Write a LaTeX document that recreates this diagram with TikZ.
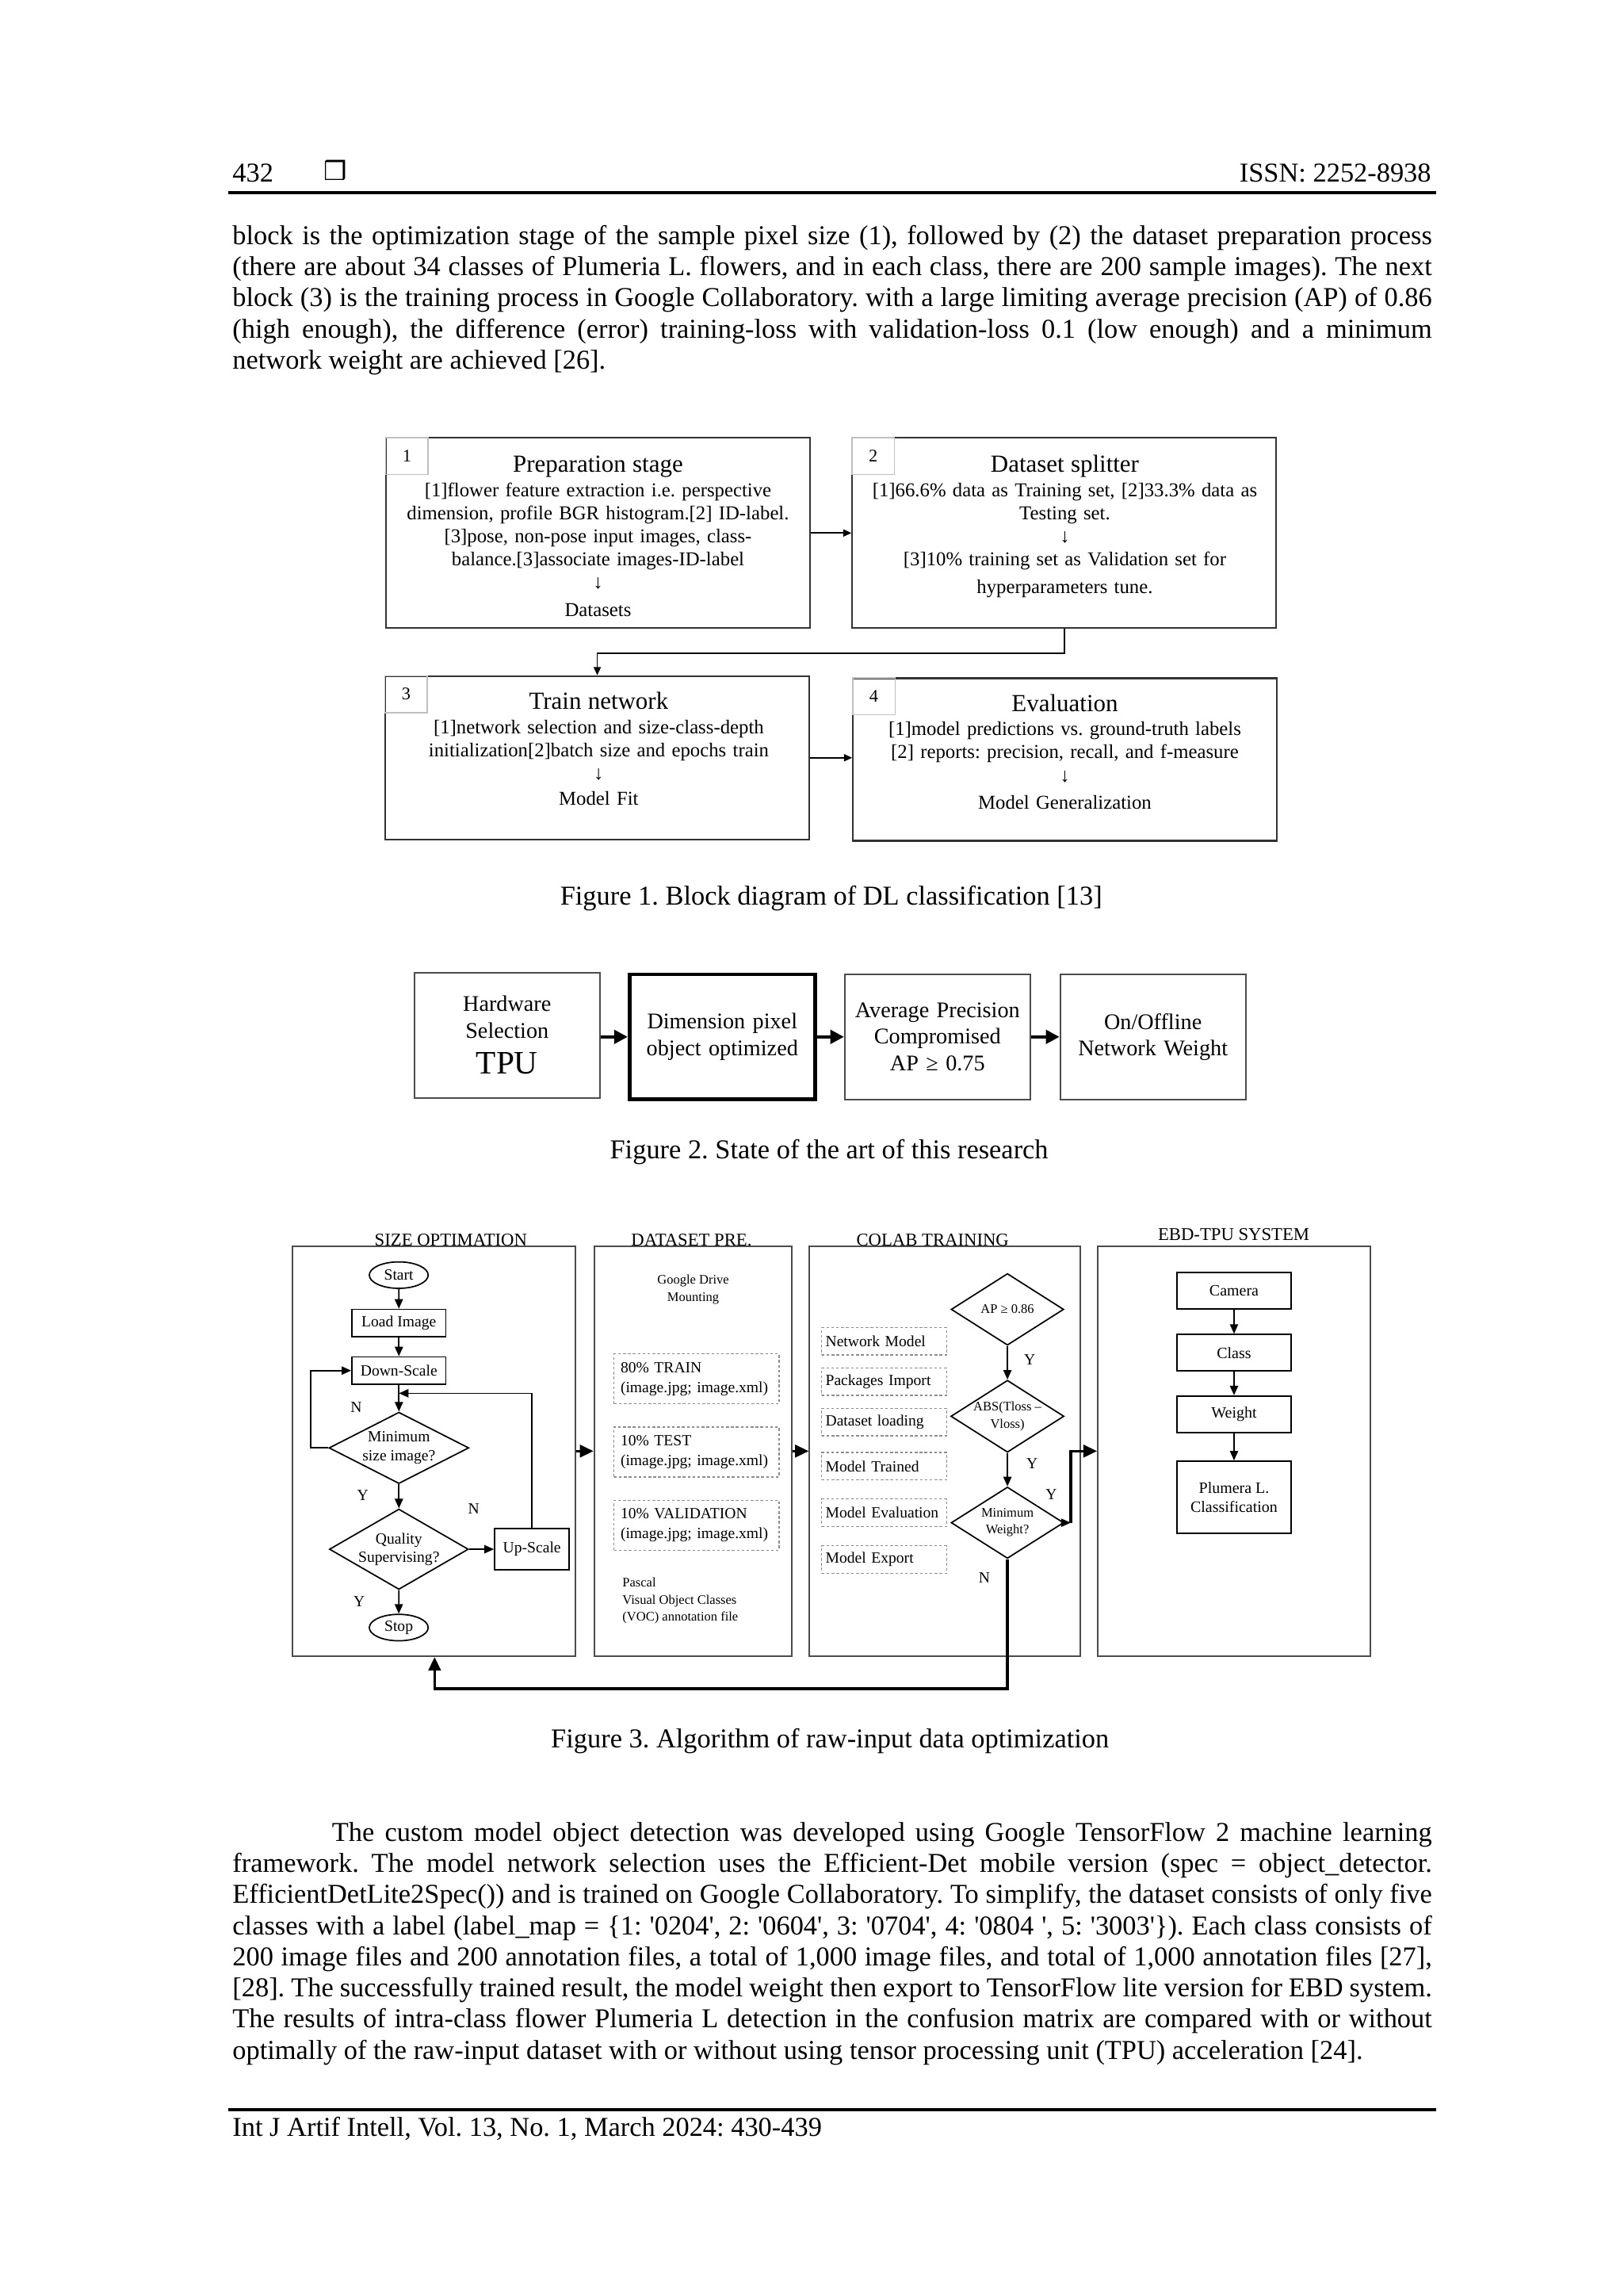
\documentclass[tikz,border=0pt]{standalone}
\usepackage{fontspec}
\setmainfont{Liberation Serif}
\newfontfamily\dingfont{DejaVu Sans}
\usetikzlibrary{arrows.meta,shapes.geometric,positioning}
\newcommand{\fsize}[2]{\fontsize{#1}{#2}\selectfont}
\newcommand{\justline}[1]{\makebox[440pt][s]{#1}}
\newcommand{\squote}{\textquotesingle}
\newcommand{\paraspace}{\spaceskip=2.5pt plus 2pt minus 1pt\relax}
\frenchspacing

\begin{document}
\begin{tikzpicture}[x=0.537pt,y=-0.537pt,
    every node/.style={inner sep=0pt},
    pagetext/.style={anchor=base west,font=\fsize{10}{11.4}},
    para/.style={anchor=base west,text width=440pt,align=left,font=\fsize{10}{11.4}},
    capt/.style={anchor=base,font=\fsize{10}{11.4}},
    headrule/.style={line width=1.1pt},
    % figure 1
    block/.style={draw=black!80,line width=0.6pt,minimum width=155.5pt,minimum height=#1},
    numcell/.style={draw=black!25,line width=0.4pt,anchor=north west,
      minimum width=15.5pt,minimum height=13.5pt,font=\fsize{6.5}{6.5}},
    blocktext/.style={anchor=base,text width=150pt,align=center,font=\fsize{7.2}{8.5}},
    blockarr/.style={-{Triangle[length=3pt,width=2.6pt]},line width=0.5pt},
    % figure 2
    statebox/.style={draw=black!70,line width=0.6pt,minimum width=68pt,minimum height=45.8pt,
      text width=66pt,align=center,font=\fsize{8.2}{9.7}},
    statearr/.style={-{Triangle[length=5pt,width=5pt]},line width=1.2pt},
    % figure 3
    lane/.style={draw=black!70,line width=0.6pt,minimum width=#1,minimum height=150.4pt},
    lanehead/.style={anchor=base,font=\fsize{6.6}{6.6}},
    lanearr/.style={-{Triangle[length=5pt,width=4.5pt]},line width=1pt},
    flowbox/.style={draw,line width=0.5pt,minimum width=34.5pt,minimum height=10pt,font=\fsize{5.7}{6.8}},
    terminal/.style={ellipse,draw,line width=0.5pt,minimum width=21.6pt,minimum height=9.7pt,
      font=\fsize{5.7}{6.8}},
    decision/.style={diamond,draw,line width=0.5pt,align=center},
    flowarr/.style={-{Triangle[length=3.5pt,width=3pt]},line width=0.5pt},
    yn/.style={font=\fsize{5.7}{5.7}},
    splitbox/.style={draw=black!45,dash pattern=on 1pt off 0.8pt,line width=0.4pt,
      minimum width=60.5pt,minimum height=18.3pt,text width=55.7pt,inner xsep=2.4pt,
      align=left,font=\fsize{5.7}{7.3}},
    stepbox/.style={draw=black!45,dash pattern=on 1pt off 0.8pt,line width=0.4pt,
      minimum height=10.1pt,text width=43pt,inner xsep=1.4pt,align=left,font=\fsize{5.7}{6.8}},
    tpubox/.style={draw,line width=0.5pt,minimum width=41.9pt,minimum height=13.4pt,
      align=center,font=\fsize{5.8}{7}},
  ]
  \fill[white] (0,0) rectangle (1109,1568);
  \useasboundingbox (0,0) rectangle (1109,1568);

  % page head
  \node[pagetext] (pagenum) at (158.5,124.3) {432};
  \node[font=\dingfont\fsize{9.5}{9.5}] (pagebox) at (229,116.5) {❒};
  \node[pagetext,anchor=base east] (issn) at (978,124.3) {ISSN: 2252-8938};
  \draw[headrule] (155.7,131.7) -- (981,131.7);

  \node[para] (introtext) at (158.5,167) {\paraspace
    \justline{block is the optimization stage of the sample pixel size (1), followed by (2) the dataset preparation process}\\
    \justline{(there are about 34 classes of Plumeria L. flowers, and in each class, there are 200 sample images). The next}\\
    \justline{block (3) is the training process in Google Collaboratory. with a large limiting average precision (AP) of 0.86}\\
    \justline{(high enough), the difference (error) training-loss with validation-loss 0.1 (low enough) and a minimum}\\
    network weight are achieved [26].};

  % figure 1
  \node[block=69.8pt] (prep) at (408.5,364) {};
  \node[block=69.8pt] (split) at (727,364) {};
  \node[block=59.9pt] (train) at (408,517.5) {};
  \node[block=59.6pt] (eval) at (727.5,518.7) {};
  \node[numcell] (prepnum) at (prep.north west) {1};
  \node[numcell] (splitnum) at (split.north west) {2};
  \node[numcell] (trainnum) at (train.north west) {3};
  \node[numcell] (evalnum) at (eval.north west) {4};
  \node[blocktext] (preptext) at (408.5,322.4) {{\fsize{9}{9}Preparation stage}\\[0.4pt]
    [1]flower feature extraction i.e. perspective\\dimension, profile BGR histogram.[2] ID-label.\\{}[3]pose, non-pose input images, class-\\balance.[3]associate images-ID-label\\↓\\[1.5pt]Datasets};
  \node[blocktext] (splittext) at (727.4,322.4) {{\fsize{9}{9}Dataset splitter}\\[0.4pt]
    [1]66.6\% data as Training set, [2]33.3\% data as\\Testing set.\\↓\\{}[3]10\% training set as Validation set for\\[1.5pt]hyperparameters tune.};
  \node[blocktext] (traintext) at (409,484.5) {{\fsize{9}{9}Train network}\\[0.4pt]
    [1]network selection and size-class-depth\\initialization[2]batch size and epochs train\\↓\\[0.6pt]Model Fit};
  \node[blocktext] (evaltext) at (727.4,485.7) {{\fsize{9}{9}Evaluation}\\[0.4pt]
    [1]model predictions vs. ground-truth labels\\{}[2] reports: precision, recall, and f-measure\\↓\\[1.5pt]Model Generalization};
  \coordinate (splitdrop) at (727,446.3);
  \draw[blockarr] (prep.east) -- (split.west);
  \draw[blockarr] (split.south) -- (splitdrop) -| (train.north);
  \draw[blockarr] (train.east) -- (train.east -| eval.west);
  \node[capt] (figone) at (567.8,618) {Figure 1. Block diagram of DL classification [13]};

  % figure 2
  \node[statebox] (hwsel) at (346.4,707) {Hardware\\Selection\\[3.5pt]{\fsize{12}{12}TPU}};
  \node[statebox,draw=black,line width=1.4pt] (dimpix) at (493.4,708.1) {Dimension pixel\\object optimized};
  \node[statebox] (avgprec) at (640.4,708.1) {Average Precision\\Compromised\\AP ≥ 0.75};
  \node[statebox] (netwt) at (787.6,708.1) {On/Offline\\Network Weight};
  \draw[statearr] (hwsel.east |- dimpix.west) -- (dimpix);
  \draw[statearr] (dimpix) -- (avgprec);
  \draw[statearr] (avgprec) -- (netwt);
  \node[capt] (figtwo) at (566.4,791.3) {Figure 2. State of the art of this research};

  % figure 3
  \node[lane=103.6pt] (sizelane) at (296.5,991) {};
  \node[lane=72.5pt] (datalane) at (473.5,991) {};
  \node[lane=99.3pt] (colablane) at (645.5,991) {};
  \node[lane=99.9pt] (ebdlane) at (843,991) {};
  \node[lanehead] (sizehead) at (308,850.6) {SIZE OPTIMATION};
  \node[lanehead] (datahead) at (472.4,850.6) {DATASET PRE.};
  \node[lanehead] (colabhead) at (637.1,850.6) {COLAB TRAINING};
  \node[lanehead] (ebdhead) at (842.8,847.3) {EBD-TPU SYSTEM};

  \node[terminal] (start) at (272.4,870.8) {Start};
  \node[flowbox] (loadimg) at (272.5,903.5) {Load Image};
  \node[flowbox] (downscale) at (272.5,936) {Down-Scale};
  \node[decision,aspect=1.96,minimum width=51.3pt,minimum height=26.2pt,font=\fsize{5.7}{6.8}]
    (minsize) at (272.5,988.8) {Minimum\\size image?};
  \node[decision,aspect=1.73,minimum width=51pt,minimum height=29.5pt,font=\fsize{5.7}{6.8}]
    (quality) at (272.5,1058) {Quality\\Supervising?};
  \node[flowbox,minimum width=27.4pt,minimum height=15pt] (upscale) at (363.4,1058) {Up-Scale};
  \node[terminal] (stop) at (272.4,1111.5) {Stop};
  \node[yn] (minno) at (243.3,961.1) {N};
  \node[yn] (minyes) at (247.8,1021) {Y};
  \node[yn] (qualno) at (323.6,1030.4) {N};
  \node[yn] (qualyes) at (245.4,1094) {Y};
  \coordinate (loopleft) at (212.4,960);
  \coordinate (upjoin) at (272.5,951.5);
  \draw[flowarr] (start) -- (loadimg);
  \draw[flowarr] (loadimg) -- (downscale);
  \draw[flowarr] (downscale) -- (minsize);
  \draw[flowarr] (minsize.west) -| (loopleft) |- (downscale.west);
  \draw[flowarr] (minsize) -- (quality);
  \draw[flowarr] (quality) -- (upscale);
  \draw[flowarr] (upscale.north) |- (upjoin);
  \draw[flowarr] (quality) -- (stop);

  \node[font=\fsize{4.8}{6.2},align=center] (gdrive) at (473.5,880.6) {Google Drive\\Mounting};
  \node[splitbox] (trainsplit) at (475.8,941.7) {80\% TRAIN\\(image.jpg; image.xml)};
  \node[splitbox] (testsplit) at (475.8,991.6) {10\% TEST\\(image.jpg; image.xml)};
  \node[splitbox] (valsplit) at (475.8,1041.6) {10\% VALIDATION\\(image.jpg; image.xml)};
  \node[font=\fsize{4.8}{6.2},align=left,anchor=west] (vocnote) at (424.9,1093.3)
    {Pascal\\Visual Object Classes\\(VOC) annotation file};

  \node[stepbox] (netmodel) at (604,916) {Network Model};
  \node[stepbox] (pkgimport) at (604,943.6) {Packages Import};
  \node[stepbox] (dataload) at (604,971.1) {Dataset loading};
  \node[stepbox] (modeltrained) at (604,1001.3) {Model Trained};
  \node[stepbox] (modeleval) at (604,1033) {Model Evaluation};
  \node[stepbox] (modelexport) at (604,1065) {Model Export};
  \node[decision,aspect=1.57,minimum width=41.3pt,minimum height=26.3pt,font=\fsize{4.8}{6.2}]
    (apcheck) at (688.2,894.2) {AP ≥ 0.86};
  \node[decision,aspect=1.57,minimum width=41.3pt,minimum height=26pt,font=\fsize{4.8}{6.2}]
    (losscheck) at (688.2,967.2) {ABS(Tloss –\\Vloss)};
  \node[decision,aspect=1.57,minimum width=41.3pt,minimum height=26.2pt,font=\fsize{4.8}{6.2}]
    (weightcheck) at (688.2,1039.9) {Minimum\\Weight?};
  \node[yn] (apyes) at (703.4,928.4) {Y};
  \node[yn] (lossyes) at (705.1,999.6) {Y};
  \node[yn] (weightyes) at (718.2,1020.5) {Y};
  \node[yn] (weightno) at (672.4,1077.3) {N};
  \draw[flowarr] (apcheck) -- (losscheck);
  \draw[flowarr] (losscheck) -- (weightcheck);

  \node[tpubox] (camera) at (843,881.5) {Camera};
  \node[tpubox] (classbox) at (843,923.8) {Class};
  \node[tpubox] (weightbox) at (843,965.8) {Weight};
  \node[tpubox,minimum height=26.4pt] (plumera) at (843,1022.4) {Plumera L.\\Classification};
  \draw[flowarr] (camera) -- (classbox);
  \draw[flowarr] (classbox) -- (weightbox);
  \draw[flowarr] (weightbox) -- (plumera);

  \coordinate (weightbend) at (731.4,1039.9);
  \coordinate (backline) at (296.9,1153.3);
  \draw[lanearr] (sizelane) -- (datalane);
  \draw[lanearr] (datalane) -- (colablane);
  \draw[flowarr] (weightcheck.east) -- (weightbend);
  \draw[lanearr] (weightbend) |- (ebdlane.west);
  \draw[lanearr] (weightcheck.south) |- (backline) -- (backline |- sizelane.south);
  \node[capt] (figthree) at (567,1193.8) {Figure 3. Algorithm of raw-input data optimization};

  \node[para] (bodytext) at (158.5,1257.5) {\paraspace
    \justline{\hspace*{36.5pt}The custom model object detection was developed using Google TensorFlow 2 machine learning}\\
    \justline{framework. The model network selection uses the Efficient-Det mobile version (spec = object\_detector.}\\
    \justline{EfficientDetLite2Spec()) and is trained on Google Collaboratory. To simplify, the dataset consists of only five}\\
    \justline{classes with a label (label\_map = \{1: \squote0204\squote, 2: \squote0604\squote, 3: \squote0704\squote, 4: \squote0804 \squote, 5: \squote3003\squote\}). Each class consists of}\\
    \justline{200 image files and 200 annotation files, a total of 1,000 image files, and total of 1,000 annotation files [27],}\\
    \justline{[28]. The successfully trained result, the model weight then export to TensorFlow lite version for EBD system.}\\
    \justline{The results of intra-class flower Plumeria L detection in the confusion matrix are compared with or without}\\
    optimally of the raw-input dataset with or without using tensor processing unit (TPU) acceleration [24].};

  % page foot
  \draw[headrule] (155.7,1440.6) -- (981,1440.6);
  \node[pagetext] (pagefoot) at (158.5,1459) {Int J Artif Intell, Vol. 13, No. 1, March 2024: 430-439};
\end{tikzpicture}
\end{document}
